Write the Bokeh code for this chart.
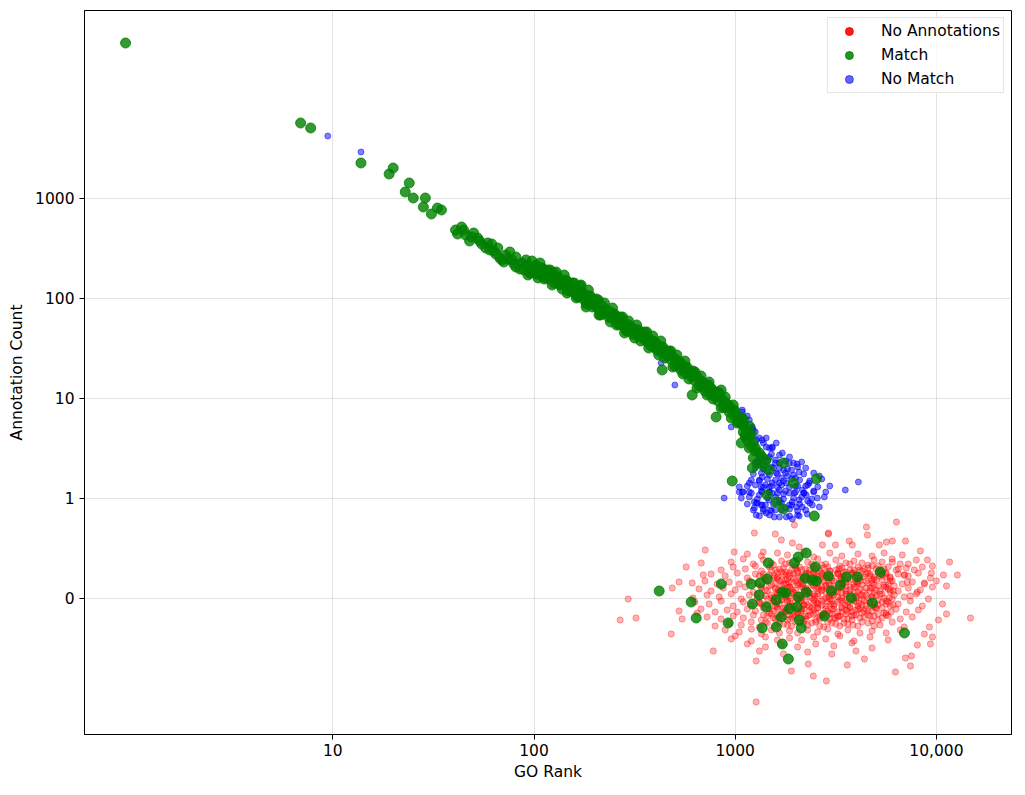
from bokeh.plotting import figure
from bokeh.models import FixedTicker, Legend, LegendItem
from bokeh.embed import file_html
from bokeh.resources import INLINE

# ---- tick definitions ----
x_tick_values = [10, 100, 1000, 10000]
x_tick_labels = ["10", "100", "1000", "10,000"]
# y position = log10(annotation count); terms with 0 annotations sit at -1 (jittered)
y_tick_positions = [-1, 0, 1, 2, 3]
y_tick_labels = ["0", "1", "10", "100", "1000"]

# ---- data: (log10 GO rank, y position) ----
match_pts = [
    (-0.03, 4.55), (0.84, 3.75), (0.89, 3.70), (1.14, 3.35), (1.28, 3.24), (1.30, 3.30),
    (1.36, 3.06), (1.38, 3.15), (1.40, 3.00), (1.46, 3.00), (1.45, 2.91), (1.49, 2.84),
    (1.52, 2.90), (1.54, 2.88), (1.61, 2.68), (1.64, 2.71), (1.65, 2.68), (1.68, 2.57),
    (1.70, 2.65), (1.72, 2.60), (1.74, 2.54), (1.77, 2.55), (1.79, 2.54), (1.80, 2.47),
    (1.82, 2.50), (1.83, 2.40), (1.84, 2.38), (1.86, 2.43), (1.88, 2.46), (1.89, 2.38),
    (1.91, 2.41), (1.91, 2.31), (1.94, 2.35), (1.95, 2.28), (1.97, 2.33), (1.98, 2.25),
    (1.99, 2.30),
    (1.62, 2.64), (1.66, 2.63), (1.69, 2.61), (1.73, 2.57), (1.76, 2.50), (1.78, 2.48),
    (1.81, 2.44), (1.85, 2.36), (1.87, 2.39), (1.90, 2.34), (1.93, 2.29),
    (2.00, 2.27), (2.01, 2.33), (2.02, 2.24), (2.035, 2.30), (2.04, 2.22), (2.045, 2.29),
    (2.06, 2.20), (2.07, 2.26), (2.075, 2.19), (2.09, 2.23), (2.10, 2.25), (2.11, 2.18),
    (2.12, 2.21), (2.125, 2.14), (2.14, 2.17), (2.155, 2.12), (2.164, 2.16), (2.164, 2.05),
    (2.18, 2.14), (2.185, 2.07), (2.20, 2.10), (2.209, 2.03), (2.22, 2.08), (2.225, 2.02),
    (2.234, 2.13), (2.24, 2.06), (2.259, 2.01), (2.259, 1.91), (2.27, 2.02), (2.275, 1.95),
    (2.29, 1.99), (2.31, 1.96), (2.315, 1.90), (2.323, 1.83), (2.34, 1.92), (2.345, 1.86),
    (2.36, 1.88), (2.38, 1.86), (2.385, 1.80), (2.388, 1.83), (2.40, 1.83), (2.423, 1.73),
    (2.43, 1.79), (2.435, 1.73), (2.45, 1.75), (2.458, 1.68), (2.47, 1.73), (2.475, 1.67),
    (2.49, 1.70), (2.51, 1.68), (2.515, 1.62), (2.522, 1.63), (2.53, 1.64), (2.55, 1.63),
    (2.555, 1.57), (2.57, 1.60), (2.572, 1.56), (2.59, 1.57), (2.595, 1.51), (2.61, 1.54),
    (2.63, 1.51), (2.635, 1.45), (2.637, 1.28), (2.65, 1.48), (2.67, 1.45), (2.675, 1.39),
    (2.69, 1.41), (2.71, 1.38), (2.715, 1.32), (2.73, 1.35), (2.75, 1.31), (2.755, 1.25),
    (2.77, 1.27), (2.786, 1.03), (2.79, 1.24), (2.795, 1.18), (2.81, 1.21), (2.83, 1.17),
    (2.835, 1.11), (2.85, 1.14), (2.87, 1.10), (2.875, 1.04), (2.89, 1.07), (2.905, 0.81),
    (2.91, 1.03), (2.915, 0.97), (2.93, 1.08), (2.93, 1.00), (2.95, 0.96), (2.955, 0.90),
    (2.97, 0.92), (2.99, 0.88), (2.995, 0.82), (3.01, 0.82), (3.015, 0.76), (3.03, 0.77),
    (3.05, 0.70),
    (1.96, 2.38), (1.98, 2.25), (2.00, 2.31), (2.02, 2.20), (2.04, 2.30), (2.06, 2.22),
    (2.08, 2.28), (2.10, 2.15), (2.12, 2.20), (2.14, 2.09), (2.16, 2.18), (2.18, 2.09),
    (2.20, 2.15), (2.22, 2.01), (2.24, 2.06), (2.26, 1.94), (2.28, 2.02), (2.30, 1.93),
    (2.32, 1.98), (2.34, 1.84), (2.36, 1.88), (2.38, 1.76), (2.40, 1.84), (2.42, 1.75),
    (2.44, 1.81), (2.46, 1.67), (2.48, 1.71), (2.50, 1.60), (2.52, 1.68), (2.54, 1.60),
    (2.56, 1.66), (2.58, 1.52), (2.60, 1.56), (2.62, 1.43), (2.64, 1.51), (2.66, 1.42),
    (2.68, 1.47), (2.70, 1.32), (2.72, 1.36), (2.74, 1.24), (2.76, 1.31), (2.78, 1.22),
    (2.80, 1.26), (2.82, 1.12), (2.84, 1.15), (2.86, 1.03), (2.88, 1.10), (2.90, 1.01),
    (2.92, 1.05), (2.94, 0.91), (2.96, 0.94), (2.98, 0.80), (3.00, 0.87), (3.02, 0.76),
    (3.04, 0.79), (3.06, 0.62), (3.08, 0.64), (3.10, 0.50),
    (1.97, 2.23), (1.99, 2.37), (2.01, 2.24), (2.03, 2.35), (2.05, 2.19), (2.07, 2.28),
    (2.09, 2.13), (2.11, 2.26), (2.13, 2.13), (2.15, 2.23), (2.17, 2.07), (2.19, 2.15),
    (2.21, 2.00), (2.23, 2.12), (2.25, 1.98), (2.27, 2.08), (2.29, 1.91), (2.31, 1.99),
    (2.33, 1.83), (2.35, 1.95), (2.37, 1.81), (2.39, 1.90), (2.41, 1.73), (2.43, 1.81),
    (2.45, 1.65), (2.47, 1.77), (2.49, 1.64), (2.51, 1.73), (2.53, 1.57), (2.55, 1.66),
    (2.57, 1.50), (2.59, 1.62), (2.61, 1.48), (2.63, 1.57), (2.65, 1.40), (2.67, 1.47),
    (2.69, 1.31), (2.71, 1.43), (2.73, 1.28), (2.75, 1.37), (2.77, 1.19), (2.79, 1.27),
    (2.81, 1.10), (2.83, 1.22), (2.85, 1.07), (2.87, 1.16), (2.89, 0.99), (2.91, 1.06),
    (2.93, 0.90), (2.95, 1.01), (2.97, 0.86), (2.99, 0.93), (3.01, 0.75), (3.03, 0.80),
    (3.05, 0.62), (3.07, 0.72), (3.09, 0.55),
    (3.035, 0.73), (3.07, 0.63), (3.03, 0.55), (3.07, 0.50), (3.12, 0.45), (3.154, 0.38),
    (3.169, 0.28), (3.085, 0.30), (3.239, 0.35), (2.985, 0.17), (3.159, 0.03), (3.204, -0.04),
    (3.239, -0.11), (3.289, 0.15), (3.403, 0.19), (3.393, -0.18), (3.04, 0.66), (3.06, 0.58),
    (3.08, 0.52), (3.10, 0.47), (3.05, 0.62), (3.09, 0.40), (3.11, 0.35), (3.13, 0.42),
    (3.14, 0.32),
    (2.622, -0.93), (2.781, -1.04), (2.806, -1.20), (2.931, -0.86), (2.965, -1.25),
    (3.080, -0.86), (3.085, -1.06), (3.119, -0.97), (3.124, -0.85), (3.159, -0.81),
    (3.164, -0.65), (3.154, -1.09), (3.134, -1.30), (3.204, -1.29), (3.229, -1.19),
    (3.234, -1.46), (3.264, -1.61), (3.204, -1.02), (3.234, -0.94), (3.25, -0.95),
    (3.294, -0.65), (3.313, -0.59), (3.353, -0.55), (3.398, -0.69), (3.269, -1.11),
    (3.308, -1.09), (3.318, -1.22), (3.328, -1.30), (3.313, -0.99), (3.353, -0.94),
    (3.348, -0.80), (3.383, -0.82), (3.403, -0.83), (3.443, -1.18), (3.463, -0.78),
    (3.478, -0.93), (3.522, -0.87), (3.552, -0.79), (3.607, -0.79), (3.577, -1.00),
    (3.682, -1.05), (3.721, -0.74), (3.841, -1.35),
]

no_match_pts = [
    (0.975, 3.62), (1.14, 3.46), (1.935, 2.35), (1.965, 2.26), (2.338, 1.90), (2.70, 1.13),
    (2.612, 1.55), (2.632, 1.35), (2.871, 1.15), (2.98, 0.71), (3.035, 0.88), (3.07, 0.78),
    (3.085, 0.71), (3.105, 0.58), (3.154, 0.60), (3.184, 0.51),
    (2.05, 2.22), (2.15, 2.17), (2.25, 2.03), (2.35, 1.86), (2.45, 1.72), (2.55, 1.62),
    (2.65, 1.47), (2.75, 1.30), (2.85, 1.11), (2.95, 0.93), (3.00, 0.85), (2.90, 1.04),
    (2.80, 1.20),
    (3.05, 0.75), (3.08, 0.70), (3.10, 0.66), (3.12, 0.60), (3.14, 0.55), (3.17, 0.50),
    (3.06, 0.82), (3.09, 0.68),
    (2.945, 0.00), (3.020, 0.06), (3.070, 0.06), (3.095, -0.04), (3.104, -0.17), (3.154, -0.15),
    (3.194, -0.19), (3.254, -0.19), (3.284, -0.21), (3.318, -0.18), (3.358, -0.16), (3.408, 0.00),
    (3.443, 0.01), (3.547, 0.08), (3.612, 0.16), (3.418, 0.22), (3.318, 0.26), (3.308, 0.34),
    (3.269, 0.35), (3.234, 0.45), (3.219, 0.35), (3.204, 0.25), (3.254, 0.15), (3.333, 0.08),
    (3.353, 0.03), (3.269, 0.05), (3.219, 0.08), (3.184, 0.15), (3.134, 0.21), (3.129, 0.11),
    (3.169, 0.06), (3.119, 0.03), (3.095, -0.10), (3.134, -0.07), (3.219, -0.05), (3.284, -0.04),
    (3.333, -0.09), (3.383, -0.07), (3.174, -0.12), (3.070, 0.15), (3.154, 0.51), (3.204, 0.55),
    (3.134, 0.58), (3.109, 0.36),
    (3.020, 0.11), (3.035, 0.06), (3.105, -0.05), (3.418, -0.09), (3.368, 0.15), (3.184, 0.50),
    (3.085, 0.61), (3.045, 0.68), (3.020, 0.78), (3.035, 0.86), (3.219, 0.15), (3.169, 0.11),
    (3.134, 0.06), (3.294, 0.05), (3.318, -0.02), (3.343, 0.05), (3.219, -0.02), (3.169, -0.02),
    (3.129, -0.07), (3.184, 0.05), (3.269, -0.07), (3.304, -0.09),
    (3.15, 0.40), (3.18, 0.44), (3.20, 0.38), (3.24, 0.28), (3.26, 0.22), (3.28, 0.28),
    (3.30, 0.20), (3.23, 0.20), (3.19, 0.30), (3.16, 0.26), (3.14, 0.32), (3.12, 0.18),
    (3.15, 0.13), (3.21, 0.11), (3.24, 0.04), (3.30, 0.12), (3.35, 0.12), (3.39, 0.06),
    (3.25, -0.10), (3.20, -0.12), (3.14, -0.13), (3.36, -0.03),
    (3.13, 0.42), (3.17, 0.41), (3.22, 0.43), (3.27, 0.41),
    (3.12, 0.36), (3.16, 0.37), (3.20, 0.35), (3.25, 0.37), (3.29, 0.35), (3.33, 0.36),
    (3.10, 0.30), (3.14, 0.29), (3.18, 0.31), (3.22, 0.30), (3.26, 0.29), (3.31, 0.31), (3.35, 0.30),
    (3.09, 0.24), (3.13, 0.25), (3.17, 0.23), (3.21, 0.24), (3.25, 0.25), (3.29, 0.23),
    (3.34, 0.24), (3.39, 0.25),
    (3.08, 0.18), (3.12, 0.17), (3.16, 0.19), (3.20, 0.18), (3.24, 0.17), (3.28, 0.19),
    (3.32, 0.18), (3.37, 0.17), (3.43, 0.19),
    (3.06, 0.12), (3.10, 0.13), (3.14, 0.11), (3.18, 0.12), (3.23, 0.13), (3.27, 0.11),
    (3.31, 0.12), (3.36, 0.13), (3.41, 0.11), (3.47, 0.12),
    (3.04, 0.06), (3.08, 0.05), (3.13, 0.07), (3.17, 0.06), (3.21, 0.05), (3.25, 0.07),
    (3.30, 0.06), (3.34, 0.05), (3.39, 0.07), (3.45, 0.06),
    (3.03, 0.00), (3.07, 0.01), (3.11, -0.01), (3.16, 0.00), (3.20, 0.01), (3.24, -0.01),
    (3.29, 0.00), (3.33, 0.01), (3.38, -0.01),
    (3.06, -0.06), (3.11, -0.05), (3.15, -0.07), (3.19, -0.06), (3.23, -0.05), (3.28, -0.07),
    (3.32, -0.06), (3.37, -0.05),
    (3.09, -0.12), (3.14, -0.11), (3.18, -0.13), (3.23, -0.12), (3.27, -0.11), (3.31, -0.13),
    (3.35, -0.12),
    (3.12, -0.18), (3.17, -0.17), (3.22, -0.19), (3.27, -0.18), (3.31, -0.17),
]

no_annot_pts = [
    # scattered edge points
    (3.095, -0.35), (3.199, -0.36), (3.229, -0.42), (3.284, -0.45), (3.318, -0.49), (3.463, -0.36),
    (3.433, -0.47), (3.498, -0.47), (3.567, -0.43), (3.582, -0.47), (3.657, -0.37), (3.652, -0.29),
    (3.801, -0.24), (3.716, -0.47), (3.751, -0.44), (3.781, -0.43), (3.846, -0.43), (3.920, -0.53),
    (2.851, -0.52), (2.995, -0.54), (3.139, -0.54), (2.756, -0.69), (2.831, -0.65), (2.721, -0.84),
    (2.687, -0.90), (2.786, -0.85), (2.841, -0.77), (2.468, -1.01), (2.428, -1.22), (2.507, -1.20),
    (2.682, -1.36), (2.721, -1.13), (2.736, -1.21), (2.811, -1.15), (2.891, -1.53), (2.980, -1.41),
    (3.104, -1.63), (3.104, -2.04), (3.279, -1.73), (3.363, -1.66), (3.388, -1.78), (3.453, -1.83),
    (3.557, -1.67), (3.642, -1.61), (3.796, -1.74), (3.846, -1.60), (3.876, -1.58), (3.871, -1.68),
    (4.169, -1.20), (4.104, -0.77), (4.065, -0.64), (4.050, -0.88), (4.030, -1.06), (4.010, -1.22),
    (4.050, -1.16), (3.980, -1.39), (3.970, -1.46), (3.940, -1.36), (3.905, -1.47), (3.965, -1.29),
    (4.035, -0.77), (3.955, -0.62), (3.980, -0.68), (3.975, -0.75), (3.940, -0.85), (3.905, -0.94),
    (3.841, -0.77), (3.811, -0.71), (3.781, -0.64), (3.294, -0.27), (3.463, -0.35),
    # dense core
    (3.06, -0.56), (3.13, -0.58), (3.21, -0.55), (3.26, -0.57), (3.34, -0.54), (3.39, -0.59),
    (3.47, -0.55), (3.53, -0.58), (3.61, -0.56), (3.68, -0.58), (3.74, -0.55), (3.83, -0.57),
    (2.98, -0.64), (3.04, -0.61), (3.09, -0.66), (3.14, -0.62), (3.18, -0.65), (3.23, -0.63),
    (3.27, -0.65), (3.31, -0.62), (3.36, -0.64), (3.41, -0.61), (3.45, -0.66), (3.50, -0.62),
    (3.55, -0.65), (3.59, -0.63), (3.63, -0.65), (3.69, -0.62), (3.73, -0.64), (3.78, -0.61),
    (3.86, -0.66), (3.90, -0.62),
    (3.19, -0.67), (3.25, -0.66), (3.30, -0.68), (3.38, -0.66), (3.43, -0.67), (3.52, -0.68),
    (3.57, -0.66), (3.66, -0.67), (3.71, -0.68), (3.82, -0.66),
    (2.93, -0.72), (2.99, -0.69), (3.05, -0.71), (3.10, -0.68), (3.13, -0.73), (3.17, -0.69),
    (3.20, -0.72), (3.24, -0.70), (3.28, -0.72), (3.32, -0.69), (3.35, -0.71), (3.39, -0.68),
    (3.42, -0.73), (3.46, -0.69), (3.50, -0.72), (3.53, -0.70), (3.57, -0.72), (3.61, -0.69),
    (3.64, -0.71), (3.68, -0.68), (3.72, -0.73), (3.76, -0.69), (3.80, -0.72), (3.85, -0.70),
    (3.89, -0.72), (3.93, -0.69),
    (3.22, -0.71), (3.30, -0.70), (3.37, -0.72), (3.44, -0.70), (3.515, -0.71), (3.59, -0.72),
    (3.66, -0.70), (3.74, -0.71),
    (3.14, -0.76), (3.18, -0.73), (3.21, -0.75), (3.25, -0.74), (3.29, -0.76), (3.33, -0.72),
    (3.36, -0.75), (3.40, -0.71), (3.43, -0.76), (3.47, -0.73), (3.51, -0.75), (3.54, -0.74),
    (3.58, -0.76), (3.62, -0.72), (3.66, -0.75), (3.70, -0.71), (3.75, -0.76),
    (3.23, -0.74), (3.27, -0.75), (3.31, -0.73), (3.35, -0.76), (3.39, -0.74), (3.43, -0.75),
    (3.47, -0.73), (3.51, -0.76), (3.55, -0.74), (3.59, -0.75), (3.63, -0.73), (3.67, -0.76),
    (3.71, -0.74), (3.75, -0.75),
    (2.88, -0.76), (2.95, -0.78), (3.01, -0.75), (3.06, -0.80), (3.10, -0.76), (3.14, -0.79),
    (3.17, -0.77), (3.21, -0.79), (3.24, -0.76), (3.27, -0.78), (3.31, -0.75), (3.34, -0.80),
    (3.37, -0.76), (3.41, -0.79), (3.44, -0.77), (3.47, -0.79), (3.51, -0.76), (3.54, -0.78),
    (3.58, -0.75), (3.62, -0.80), (3.65, -0.76), (3.69, -0.79), (3.73, -0.77), (3.77, -0.79),
    (3.81, -0.76), (3.86, -0.78), (3.91, -0.75), (3.97, -0.80),
    (3.195, -0.78), (3.255, -0.77), (3.32, -0.79), (3.39, -0.77), (3.455, -0.78), (3.525, -0.79),
    (3.60, -0.77), (3.67, -0.78), (3.75, -0.79), (3.84, -0.77),
    (3.21, -0.81), (3.25, -0.82), (3.29, -0.80), (3.33, -0.83), (3.37, -0.81), (3.41, -0.82),
    (3.45, -0.80), (3.49, -0.83), (3.53, -0.81), (3.57, -0.82), (3.61, -0.80), (3.65, -0.83),
    (3.69, -0.81), (3.73, -0.82), (3.77, -0.80),
    (3.12, -0.78), (3.16, -0.83), (3.19, -0.80), (3.23, -0.82), (3.26, -0.81), (3.30, -0.83),
    (3.33, -0.79), (3.37, -0.82), (3.40, -0.78), (3.44, -0.83), (3.48, -0.80), (3.52, -0.82),
    (3.56, -0.81), (3.60, -0.83), (3.64, -0.79), (3.68, -0.82), (3.72, -0.78), (3.77, -0.83),
    (2.85, -0.83), (2.91, -0.86), (2.97, -0.84), (3.02, -0.86), (3.07, -0.83), (3.11, -0.85),
    (3.15, -0.82), (3.18, -0.87), (3.22, -0.83), (3.25, -0.86), (3.28, -0.84), (3.32, -0.86),
    (3.35, -0.83), (3.38, -0.85), (3.42, -0.82), (3.45, -0.87), (3.48, -0.83), (3.52, -0.86),
    (3.55, -0.84), (3.59, -0.86), (3.62, -0.83), (3.66, -0.85), (3.70, -0.82), (3.74, -0.87),
    (3.78, -0.83), (3.83, -0.86), (3.88, -0.84), (3.94, -0.86), (4.00, -0.83),
    (3.20, -0.85), (3.265, -0.84), (3.335, -0.86), (3.40, -0.84), (3.465, -0.85), (3.535, -0.86),
    (3.605, -0.84), (3.68, -0.85), (3.76, -0.86), (3.855, -0.84),
    (3.23, -0.88), (3.27, -0.89), (3.31, -0.87), (3.35, -0.90), (3.39, -0.88), (3.43, -0.89),
    (3.47, -0.87), (3.51, -0.90), (3.55, -0.88), (3.59, -0.89), (3.63, -0.87), (3.67, -0.90),
    (3.71, -0.88), (3.75, -0.89),
    (3.13, -0.89), (3.17, -0.88), (3.20, -0.90), (3.24, -0.86), (3.27, -0.89), (3.31, -0.85),
    (3.34, -0.90), (3.38, -0.87), (3.41, -0.89), (3.45, -0.88), (3.49, -0.90), (3.53, -0.86),
    (3.57, -0.89), (3.61, -0.85), (3.65, -0.90), (3.69, -0.87), (3.74, -0.89), (3.79, -0.88),
    (2.82, -0.91), (2.88, -0.93), (2.94, -0.90), (3.00, -0.92), (3.05, -0.89), (3.09, -0.94),
    (3.13, -0.90), (3.16, -0.93), (3.20, -0.91), (3.23, -0.93), (3.26, -0.90), (3.30, -0.92),
    (3.33, -0.89), (3.36, -0.94), (3.40, -0.90), (3.43, -0.93), (3.46, -0.91), (3.50, -0.93),
    (3.53, -0.90), (3.57, -0.92), (3.60, -0.89), (3.64, -0.94), (3.68, -0.90), (3.72, -0.93),
    (3.76, -0.91), (3.81, -0.93), (3.86, -0.90), (3.92, -0.92), (3.98, -0.89),
    (3.215, -0.92), (3.28, -0.91), (3.345, -0.93), (3.415, -0.91), (3.48, -0.92), (3.55, -0.93),
    (3.62, -0.91), (3.70, -0.92), (3.785, -0.93),
    (3.21, -0.95), (3.25, -0.96), (3.29, -0.94), (3.33, -0.97), (3.37, -0.95), (3.41, -0.96),
    (3.45, -0.94), (3.49, -0.97), (3.53, -0.95), (3.57, -0.96), (3.61, -0.94), (3.65, -0.97),
    (3.69, -0.95), (3.73, -0.96), (3.77, -0.94),
    (3.11, -0.96), (3.15, -0.92), (3.18, -0.97), (3.22, -0.94), (3.25, -0.96), (3.29, -0.95),
    (3.32, -0.97), (3.36, -0.93), (3.39, -0.96), (3.43, -0.92), (3.47, -0.97), (3.51, -0.94),
    (3.55, -0.96), (3.59, -0.95), (3.63, -0.97), (3.67, -0.93), (3.72, -0.96), (3.77, -0.92),
    (2.79, -1.00), (2.86, -0.97), (2.92, -0.99), (2.98, -0.96), (3.03, -1.01), (3.07, -0.97),
    (3.11, -1.00), (3.15, -0.98), (3.18, -1.00), (3.21, -0.97), (3.25, -0.99), (3.28, -0.96),
    (3.31, -1.01), (3.35, -0.97), (3.38, -1.00), (3.41, -0.98), (3.45, -1.00), (3.48, -0.97),
    (3.51, -0.99), (3.55, -0.96), (3.58, -1.01), (3.62, -0.97), (3.66, -1.00), (3.70, -0.98),
    (3.74, -1.00), (3.79, -0.97), (3.84, -0.99), (3.90, -0.96), (3.96, -1.01),
    (3.195, -0.99), (3.265, -0.98), (3.33, -1.00), (3.395, -0.98), (3.465, -0.99), (3.53, -1.00),
    (3.60, -0.98), (3.68, -0.99), (3.765, -1.00), (3.87, -0.98),
    (3.23, -1.02), (3.27, -1.03), (3.31, -1.01), (3.35, -1.04), (3.39, -1.02), (3.43, -1.03),
    (3.47, -1.01), (3.51, -1.04), (3.55, -1.02), (3.59, -1.03), (3.63, -1.01), (3.67, -1.04),
    (3.71, -1.02), (3.75, -1.03),
    (3.12, -1.04), (3.16, -1.01), (3.19, -1.03), (3.23, -1.02), (3.26, -1.04), (3.30, -1.00),
    (3.33, -1.03), (3.37, -0.99), (3.40, -1.04), (3.44, -1.01), (3.48, -1.03), (3.52, -1.02),
    (3.56, -1.04), (3.60, -1.00), (3.64, -1.03), (3.68, -0.99), (3.73, -1.04), (3.78, -1.01),
    (2.80, -1.04), (2.87, -1.06), (2.93, -1.03), (2.99, -1.08), (3.04, -1.04), (3.08, -1.07),
    (3.12, -1.05), (3.16, -1.07), (3.19, -1.04), (3.22, -1.06), (3.26, -1.03), (3.29, -1.08),
    (3.32, -1.04), (3.36, -1.07), (3.39, -1.05), (3.43, -1.07), (3.46, -1.04), (3.49, -1.06),
    (3.53, -1.03), (3.56, -1.08), (3.60, -1.04), (3.63, -1.07), (3.67, -1.05), (3.71, -1.07),
    (3.76, -1.04), (3.81, -1.06), (3.87, -1.03), (3.93, -1.08),
    (3.205, -1.06), (3.275, -1.05), (3.34, -1.07), (3.41, -1.05), (3.475, -1.06), (3.545, -1.07),
    (3.615, -1.05), (3.69, -1.06), (3.785, -1.07),
    (3.21, -1.09), (3.25, -1.10), (3.29, -1.08), (3.33, -1.11), (3.37, -1.09), (3.41, -1.10),
    (3.45, -1.08), (3.49, -1.11), (3.53, -1.09), (3.57, -1.10), (3.61, -1.08), (3.65, -1.11),
    (3.69, -1.09), (3.73, -1.10), (3.77, -1.08),
    (3.13, -1.06), (3.17, -1.11), (3.20, -1.08), (3.24, -1.10), (3.27, -1.09), (3.31, -1.11),
    (3.34, -1.07), (3.38, -1.10), (3.41, -1.06), (3.45, -1.11), (3.49, -1.08), (3.53, -1.10),
    (3.57, -1.09), (3.61, -1.11), (3.65, -1.07), (3.70, -1.10), (3.75, -1.06),
    (2.83, -1.11), (2.90, -1.14), (2.96, -1.12), (3.01, -1.14), (3.06, -1.11), (3.10, -1.13),
    (3.14, -1.10), (3.17, -1.15), (3.21, -1.11), (3.24, -1.14), (3.27, -1.12), (3.31, -1.14),
    (3.34, -1.11), (3.37, -1.13), (3.41, -1.10), (3.44, -1.15), (3.48, -1.11), (3.51, -1.14),
    (3.55, -1.12), (3.58, -1.14), (3.62, -1.11), (3.66, -1.13), (3.70, -1.10), (3.75, -1.15),
    (3.80, -1.11), (3.85, -1.14), (3.91, -1.12),
    (3.19, -1.13), (3.255, -1.12), (3.325, -1.14), (3.39, -1.12), (3.46, -1.13), (3.53, -1.14),
    (3.60, -1.12), (3.68, -1.13), (3.775, -1.14),
    (3.23, -1.16), (3.27, -1.17), (3.31, -1.15), (3.35, -1.18), (3.39, -1.16), (3.43, -1.17),
    (3.47, -1.15), (3.51, -1.18), (3.55, -1.16), (3.59, -1.17), (3.63, -1.15), (3.67, -1.18),
    (3.71, -1.16), (3.75, -1.17),
    (3.14, -1.17), (3.18, -1.16), (3.21, -1.18), (3.25, -1.14), (3.29, -1.17), (3.33, -1.13),
    (3.36, -1.18), (3.40, -1.15), (3.44, -1.17), (3.48, -1.16), (3.52, -1.18), (3.56, -1.14),
    (3.60, -1.17), (3.64, -1.13), (3.69, -1.18), (3.74, -1.15),
    (2.86, -1.19), (2.93, -1.21), (2.99, -1.18), (3.04, -1.20), (3.09, -1.17), (3.13, -1.22),
    (3.16, -1.18), (3.20, -1.21), (3.23, -1.19), (3.27, -1.21), (3.30, -1.18), (3.33, -1.20),
    (3.37, -1.17), (3.40, -1.22), (3.44, -1.18), (3.47, -1.21), (3.51, -1.19), (3.54, -1.21),
    (3.58, -1.18), (3.62, -1.20), (3.66, -1.17), (3.71, -1.22), (3.76, -1.18), (3.82, -1.21),
    (3.88, -1.19),
    (3.215, -1.20), (3.285, -1.19), (3.35, -1.21), (3.42, -1.19), (3.49, -1.20), (3.56, -1.21),
    (3.64, -1.19), (3.73, -1.20),
    (3.15, -1.24), (3.19, -1.20), (3.22, -1.25), (3.26, -1.22), (3.30, -1.24), (3.34, -1.23),
    (3.38, -1.25), (3.42, -1.21), (3.46, -1.24), (3.50, -1.20), (3.54, -1.25), (3.58, -1.22),
    (3.63, -1.24), (3.68, -1.23),
    (2.90, -1.28), (2.97, -1.25), (3.03, -1.27), (3.08, -1.24), (3.12, -1.29), (3.16, -1.25),
    (3.20, -1.28), (3.24, -1.26), (3.28, -1.28), (3.32, -1.25), (3.36, -1.27), (3.40, -1.24),
    (3.44, -1.29), (3.48, -1.25), (3.52, -1.28), (3.56, -1.26), (3.61, -1.28), (3.66, -1.25),
    (3.72, -1.27), (3.78, -1.24), (3.84, -1.29),
    (3.26, -1.27), (3.34, -1.26), (3.42, -1.28), (3.50, -1.26), (3.585, -1.27), (3.69, -1.28),
    (2.95, -1.32), (3.02, -1.34), (3.08, -1.31), (3.13, -1.36), (3.18, -1.32), (3.22, -1.35),
    (3.27, -1.33), (3.31, -1.35), (3.36, -1.32), (3.41, -1.34), (3.46, -1.31), (3.51, -1.36),
    (3.56, -1.32), (3.62, -1.35), (3.68, -1.33), (3.75, -1.35), (3.82, -1.32),
    (3.00, -1.38), (3.08, -1.43), (3.15, -1.39), (3.21, -1.42), (3.27, -1.40), (3.33, -1.42),
    (3.39, -1.39), (3.45, -1.41), (3.52, -1.38), (3.59, -1.43), (3.67, -1.39), (3.76, -1.42),
    (3.06, -1.46), (3.15, -1.49), (3.23, -1.47), (3.31, -1.49), (3.40, -1.46), (3.49, -1.48),
    (3.58, -1.45), (3.68, -1.50),
    (3.12, -1.53), (3.24, -1.56), (3.36, -1.54), (3.48, -1.56), (3.60, -1.53),
]


def unpack(pts):
    return [10 ** a for a, _ in pts], [b for _, b in pts]


font = "DejaVu Sans"
fsize = "15.5px"

p = figure(
    width=1017, height=786,
    x_axis_type="log",
    x_range=(10 ** -0.234, 10 ** 4.373),
    y_range=(-2.365, 4.875),
    output_backend="svg", toolbar_location=None,
    min_border_left=84, min_border_right=6, min_border_top=10, min_border_bottom=52,
    background_fill_color="white", border_fill_color="white",
)
p.outline_line_color = "black"
p.outline_line_width = 1

# axes
p.xaxis.ticker = FixedTicker(ticks=x_tick_values, minor_ticks=[])
p.xaxis.major_label_overrides = dict(zip(x_tick_values, x_tick_labels))
p.yaxis.ticker = FixedTicker(ticks=y_tick_positions, minor_ticks=[])
p.yaxis.major_label_overrides = dict(zip(y_tick_positions, y_tick_labels))
p.xaxis.axis_label = "GO Rank"
p.yaxis.axis_label = "Annotation Count"
for ax in (p.xaxis, p.yaxis):
    ax.axis_line_color = "black"
    ax.axis_line_width = 1
    ax.major_tick_line_color = "black"
    ax.major_tick_out = 5
    ax.major_tick_in = 0
    ax.minor_tick_line_color = None
    ax.major_label_text_font = font
    ax.major_label_text_font_size = fsize
    ax.major_label_text_color = "black"
    ax.axis_label_text_font = font
    ax.axis_label_text_font_size = fsize
    ax.axis_label_text_font_style = "normal"
    ax.axis_label_text_color = "black"
p.xaxis.major_label_standoff = 4
p.xaxis.axis_label_standoff = 4
p.yaxis.major_label_standoff = 5
p.yaxis.axis_label_standoff = 6

for g in (p.xgrid, p.ygrid):
    g.grid_line_color = "#b0b0b0"
    g.grid_line_alpha = 0.35
    g.grid_line_width = 1

# points
rx, ry = unpack(no_annot_pts)
bx, by = unpack(no_match_pts)
gx, gy = unpack(match_pts)
p.scatter(rx, ry, size=6.3, fill_color="red", line_color="red",
          fill_alpha=0.3, line_alpha=0.3, line_width=1)
p.scatter(bx, by, size=6, fill_color="blue", line_color="blue",
          fill_alpha=0.5, line_alpha=0.5, line_width=1)
p.scatter(gx, gy, size=10, fill_color="green", line_color="green",
          fill_alpha=0.8, line_alpha=0.8, line_width=1)

# legend handles (one point each, placed outside the visible range)
far_x, far_y = [1e-4], [-50]
lr = p.scatter(far_x, far_y, size=10, fill_color="red", line_color="red", fill_alpha=0.9, line_alpha=0.9)
lg = p.scatter(far_x, far_y, size=10, fill_color="green", line_color="green", fill_alpha=0.85, line_alpha=0.85)
lb = p.scatter(far_x, far_y, size=10, fill_color="blue", line_color="blue", fill_alpha=0.6, line_alpha=0.6)
legend = Legend(items=[
    LegendItem(label="No Annotations", renderers=[lr]),
    LegendItem(label="Match", renderers=[lg]),
    LegendItem(label="No Match", renderers=[lb]),
], location="top_right")
legend.margin = 7
legend.padding = 3
legend.spacing = 4
legend.label_height = 20
legend.glyph_height = 20
legend.glyph_width = 36
legend.label_standoff = 14
legend.label_text_font = font
legend.label_text_font_size = fsize
legend.label_text_color = "black"
legend.border_line_color = "#cccccc"
legend.border_line_width = 1
legend.background_fill_color = "white"
legend.background_fill_alpha = 0.8
p.add_layout(legend)

open("out.html", "w").write(file_html(p, INLINE))
